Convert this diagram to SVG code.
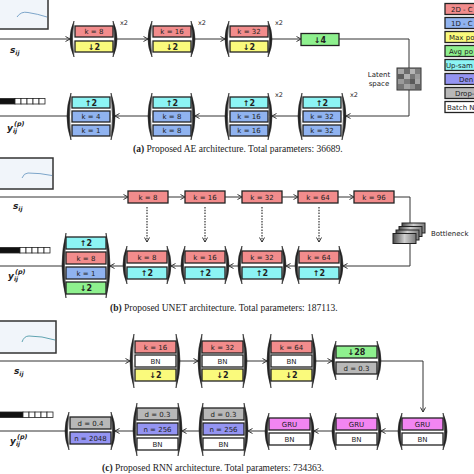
<svg xmlns="http://www.w3.org/2000/svg" width="474" height="474" viewBox="0 0 474 474">
<style>
.b{stroke:#222;stroke-width:1.3}
.c2{fill:#f28c8c}.c1{fill:#90b3f0}.mp{fill:#fafa7c}.ap{fill:#8ef08e}.up{fill:#8cf4f4}
.de{fill:#9494f2}.dr{fill:#b8b8b8}.bn{fill:#ffffff}.gru{fill:#f285f2}
.t{font-family:"DejaVu Sans",sans-serif;font-size:7px;fill:#222;text-anchor:middle}
.ar{font-weight:bold;font-size:8px}
.x2{font-family:"DejaVu Sans",sans-serif;font-size:6.5px;fill:#222}
.lg{font-family:"DejaVu Sans",sans-serif;font-size:7px;fill:#222}
.br{fill:#222;stroke:#222;stroke-width:0.6}
.ln{stroke:#333;stroke-width:1;fill:none}
.dot{stroke:#333;stroke-width:1.2;fill:none;stroke-dasharray:1.5 1.3}
.lab{font-family:"DejaVu Sans",sans-serif;font-size:9px;font-weight:bold;font-style:italic;fill:#222}
.cap{font-family:"Liberation Serif","Times New Roman",serif;font-size:9.5px;fill:#222}
.img{fill:#f1f5fa;stroke:#333;stroke-width:1.5}
.crv{fill:none;stroke:#6f9cc4;stroke-width:0.9}
.cell{stroke:#222;stroke-width:0.8}
</style>
<defs>
<marker id="ah" markerWidth="6" markerHeight="6" refX="5" refY="3" orient="auto" markerUnits="userSpaceOnUse">
<path d="M0.5,0.5 L5,3 L0.5,5.5" fill="none" stroke="#333" stroke-width="1"/>
</marker>
<linearGradient id="bg" x1="0" x2="1" y1="0" y2="0">
<stop offset="0" stop-color="#4a4a4a"/><stop offset="0.5" stop-color="#cfcfcf"/><stop offset="1" stop-color="#7a7a7a"/>
</linearGradient>
</defs>

<!-- ===== Panel (a) ===== -->
<g id="a-input">
<rect class="img" x="-2" y="-12" width="50" height="41"/>
<path class="crv" d="M17,17 Q21,11 28,12.5 Q38,14 47,17"/>
<text class="lab" x="10" y="53">s<tspan font-size="6" dy="2">ij</tspan></text>
</g>
<g id="a-e1">
<path class="br" d="M74,21 Q66,39 74,57 Q71,39 74,21Z"/><path class="br" d="M113,21 Q121,39 113,57 Q116,39 113,21Z"/>
<rect class="b c2" x="75" y="26" width="38" height="11"/><text class="t" x="94" y="34">k = 8</text>
<rect class="b mp" x="75" y="41" width="38" height="11"/><text class="t ar" x="94" y="49.8">↓2</text>
<text class="x2" x="120" y="25">x2</text>
</g>
<g id="a-e2">
<path class="br" d="M152,21 Q144,39 152,57 Q149,39 152,21Z"/><path class="br" d="M191,21 Q199,39 191,57 Q194,39 191,21Z"/>
<rect class="b c2" x="153" y="26" width="38" height="11"/><text class="t" x="172" y="34">k = 16</text>
<rect class="b mp" x="153" y="41" width="38" height="11"/><text class="t ar" x="172" y="49.8">↓2</text>
<text class="x2" x="198" y="25">x2</text>
</g>
<g id="a-e3">
<path class="br" d="M229,21 Q221,39 229,57 Q226,39 229,21Z"/><path class="br" d="M268,21 Q276,39 268,57 Q271,39 268,21Z"/>
<rect class="b c2" x="230" y="26" width="38" height="11"/><text class="t" x="249" y="34">k = 32</text>
<rect class="b mp" x="230" y="41" width="38" height="11"/><text class="t ar" x="249" y="49.8">↓2</text>
<text class="x2" x="275" y="25">x2</text>
</g>
<g id="a-pool">
<rect class="b ap" x="301" y="33.5" width="38" height="12"/><text class="t ar" x="320" y="42.8">↓4</text>
</g>
<g id="a-latent">
<rect x="397" y="68" width="24" height="22" fill="#8a8a8a" stroke="#333" stroke-width="1"/>
<rect x="398" y="69" width="6" height="5" fill="#a8a8a8"/><rect x="404" y="69" width="6" height="5" fill="#6e6e6e"/><rect x="410" y="69" width="5" height="5" fill="#b4b4b4"/><rect x="415" y="69" width="5" height="5" fill="#7d7d7d"/>
<rect x="398" y="74" width="6" height="5" fill="#5e5e5e"/><rect x="404" y="74" width="6" height="5" fill="#b0b0b0"/><rect x="410" y="74" width="5" height="5" fill="#767676"/><rect x="415" y="74" width="5" height="5" fill="#9c9c9c"/>
<rect x="398" y="79" width="6" height="5" fill="#9a9a9a"/><rect x="404" y="79" width="6" height="5" fill="#7a7a7a"/><rect x="410" y="79" width="5" height="5" fill="#5a5a5a"/><rect x="415" y="79" width="5" height="5" fill="#a6a6a6"/>
<rect x="398" y="84" width="6" height="5" fill="#767676"/><rect x="404" y="84" width="6" height="5" fill="#a2a2a2"/><rect x="410" y="84" width="5" height="5" fill="#8e8e8e"/><rect x="415" y="84" width="5" height="5" fill="#666"/>
<text class="lg" x="379" y="77" text-anchor="middle">Latent</text>
<text class="lg" x="379" y="86" text-anchor="middle">space</text>
</g>
<g id="a-d1">
<path class="br" d="M302,93 Q294,116.5 302,140 Q299,116.5 302,93Z"/><path class="br" d="M342,93 Q350,116.5 342,140 Q345,116.5 342,93Z"/>
<rect class="b up" x="303" y="97" width="38" height="11"/><text class="t ar" x="322" y="105.8">↑2</text>
<rect class="b c1" x="303" y="111" width="38" height="11"/><text class="t" x="322" y="119">k = 32</text>
<rect class="b c1" x="303" y="125" width="38" height="11"/><text class="t" x="322" y="133">k = 32</text>
<text class="x2" x="350" y="97">x2</text>
</g>
<g id="a-d2">
<path class="br" d="M229,93 Q221,116.5 229,140 Q226,116.5 229,93Z"/><path class="br" d="M268,93 Q276,116.5 268,140 Q271,116.5 268,93Z"/>
<rect class="b up" x="230" y="97" width="38" height="11"/><text class="t ar" x="249" y="105.8">↑2</text>
<rect class="b c1" x="230" y="111" width="38" height="11"/><text class="t" x="249" y="119">k = 16</text>
<rect class="b c1" x="230" y="125" width="38" height="11"/><text class="t" x="249" y="133">k = 16</text>
<text class="x2" x="275" y="97">x2</text>
</g>
<g id="a-d3">
<path class="br" d="M152,93 Q144,116.5 152,140 Q149,116.5 152,93Z"/><path class="br" d="M191,93 Q199,116.5 191,140 Q194,116.5 191,93Z"/>
<rect class="b up" x="153" y="97" width="38" height="11"/><text class="t ar" x="172" y="105.8">↑2</text>
<rect class="b c1" x="153" y="111" width="38" height="11"/><text class="t" x="172" y="119">k = 8</text>
<rect class="b c1" x="153" y="125" width="38" height="11"/><text class="t" x="172" y="133">k = 8</text>
</g>
<g id="a-d4">
<path class="br" d="M71,93 Q63,116.5 71,140 Q68,116.5 71,93Z"/><path class="br" d="M111,93 Q119,116.5 111,140 Q114,116.5 111,93Z"/>
<rect class="b up" x="72" y="97" width="38" height="11"/><text class="t ar" x="91" y="105.8">↑2</text>
<rect class="b c1" x="72" y="111" width="38" height="11"/><text class="t" x="91" y="119">k = 4</text>
<rect class="b c1" x="72" y="125" width="38" height="11"/><text class="t" x="91" y="133">k = 1</text>
</g>
<g id="a-output">
<rect class="cell" x="-1" y="98.5" width="16" height="5.5" fill="#111"/>
<rect class="cell" x="15" y="98.5" width="6" height="5.5" fill="#fff"/><rect class="cell" x="21" y="98.5" width="6" height="5.5" fill="#fff"/><rect class="cell" x="27" y="98.5" width="6" height="5.5" fill="#fff"/><rect class="cell" x="33" y="98.5" width="6" height="5.5" fill="#fff"/><rect class="cell" x="39" y="98.5" width="6" height="5.5" fill="#fff"/>
<text class="lab" x="7" y="131">y<tspan font-size="6" dy="2">ij</tspan><tspan font-size="6.5" dx="-3" dy="-7">(p)</tspan></text>
</g>
<g id="a-connectors">
<path class="ln" d="M0,39 H70" marker-end="url(#ah)"/>
<path class="ln" d="M117,39 H148" marker-end="url(#ah)"/>
<path class="ln" d="M195,39 H225" marker-end="url(#ah)"/>
<path class="ln" d="M272,39 H301" marker-end="url(#ah)"/>
<path class="ln" d="M339,39 H409 V68"/>
<path class="ln" d="M409,90 V116 H346" marker-end="url(#ah)"/>
<path class="ln" d="M298,116 H272" marker-end="url(#ah)"/>
<path class="ln" d="M225,116 H195" marker-end="url(#ah)"/>
<path class="ln" d="M148,116 H115" marker-end="url(#ah)"/>
<path class="ln" d="M67,116 H0"/>
</g>
<text class="cap" x="133" y="152"><tspan font-weight="bold">(a)</tspan> Proposed AE architecture. Total parameters: 36689.</text>

<!-- Legend -->
<g id="legend">
<rect class="b c2" x="445" y="3.5" width="40" height="11"/><text class="lg" x="451" y="11.5">2D - C</text>
<rect class="b c1" x="445" y="17.5" width="40" height="11"/><text class="lg" x="451" y="25.5">1D - C</text>
<rect class="b mp" x="445" y="31.5" width="40" height="11"/><text class="lg" x="449" y="39.5">Max po</text>
<rect class="b ap" x="445" y="45.5" width="40" height="11"/><text class="lg" x="449" y="53.5">Avg po</text>
<rect class="b up" x="445" y="59.5" width="40" height="11"/><text class="lg" x="446" y="67.5">Up-sam</text>
<rect class="b de" x="445" y="73.5" width="40" height="11"/><text class="lg" x="459" y="81.5">Den</text>
<rect class="b dr" x="445" y="87.5" width="40" height="11"/><text class="lg" x="455" y="95.5">Drop-</text>
<rect class="b bn" x="445" y="101.5" width="40" height="11"/><text class="lg" x="447" y="109.5" font-size="6.7">Batch N</text>
</g>

<!-- ===== Panel (b) ===== -->
<g id="b-input">
<rect class="img" x="-2" y="158" width="55" height="31"/>
<path class="crv" d="M22,178 Q24,173 28,173 Q40,173 52,175.5"/>
<text class="lab" x="13" y="209">s<tspan font-size="6" dy="2">ij</tspan></text>
</g>
<g id="b-e1"><rect class="b c2" x="128" y="191" width="40" height="12"/><text class="t" x="148" y="199.5">k = 8</text></g>
<g id="b-e2"><rect class="b c2" x="185" y="191" width="40" height="12"/><text class="t" x="205" y="199.5">k = 16</text></g>
<g id="b-e3"><rect class="b c2" x="242" y="191" width="40" height="12"/><text class="t" x="262" y="199.5">k = 32</text></g>
<g id="b-e4"><rect class="b c2" x="298" y="191" width="40" height="12"/><text class="t" x="318" y="199.5">k = 64</text></g>
<g id="b-e5"><rect class="b c2" x="354" y="191" width="40" height="12"/><text class="t" x="374" y="199.5">k = 96</text></g>
<g id="b-bottleneck">
<rect x="402" y="223" width="23" height="10" fill="url(#bg)" stroke="#222" stroke-width="1"/>
<rect x="399" y="226.5" width="23" height="10" fill="url(#bg)" stroke="#222" stroke-width="1"/>
<rect x="396" y="230" width="23" height="10" fill="url(#bg)" stroke="#222" stroke-width="1"/>
<rect x="393" y="233.5" width="23" height="10" fill="url(#bg)" stroke="#222" stroke-width="1"/>
<text class="lg" x="431" y="235.5">Bottleneck</text>
</g>
<g id="b-d1">
<path class="br" d="M299,246 Q291,265 299,284 Q296,265 299,246Z"/><path class="br" d="M339,246 Q347,265 339,284 Q342,265 339,246Z"/>
<rect class="b c2" x="299" y="251" width="40" height="12"/><text class="t" x="319" y="259.5">k = 64</text>
<rect class="b up" x="299" y="267" width="40" height="12"/><text class="t ar" x="319" y="276.3">↑2</text>
</g>
<g id="b-d2">
<path class="br" d="M242,246 Q234,265 242,284 Q239,265 242,246Z"/><path class="br" d="M282,246 Q290,265 282,284 Q285,265 282,246Z"/>
<rect class="b c2" x="242" y="251" width="40" height="12"/><text class="t" x="262" y="259.5">k = 32</text>
<rect class="b up" x="242" y="267" width="40" height="12"/><text class="t ar" x="262" y="276.3">↑2</text>
</g>
<g id="b-d3">
<path class="br" d="M185,246 Q177,265 185,284 Q182,265 185,246Z"/><path class="br" d="M225,246 Q233,265 225,284 Q228,265 225,246Z"/>
<rect class="b c2" x="185" y="251" width="40" height="12"/><text class="t" x="205" y="259.5">k = 16</text>
<rect class="b up" x="185" y="267" width="40" height="12"/><text class="t ar" x="205" y="276.3">↑2</text>
</g>
<g id="b-d4">
<path class="br" d="M127,246 Q119,265 127,284 Q124,265 127,246Z"/><path class="br" d="M167,246 Q175,265 167,284 Q170,265 167,246Z"/>
<rect class="b c2" x="127" y="251" width="40" height="12"/><text class="t" x="147" y="259.5">k = 8</text>
<rect class="b up" x="127" y="267" width="40" height="12"/><text class="t ar" x="147" y="276.3">↑2</text>
</g>
<g id="b-d5">
<path class="br" d="M66,233 Q58,265.5 66,298 Q63,265.5 66,233Z"/><path class="br" d="M106,233 Q114,265.5 106,298 Q109,265.5 106,233Z"/>
<rect class="b up" x="66" y="237" width="40" height="12"/><text class="t ar" x="86" y="246.3">↑2</text>
<rect class="b c2" x="66" y="252" width="40" height="12"/><text class="t" x="86" y="260.5">k = 8</text>
<rect class="b c1" x="66" y="267" width="40" height="12"/><text class="t" x="86" y="275.5">k = 1</text>
<rect class="b ap" x="66" y="282" width="40" height="12"/><text class="t ar" x="86" y="291.3">↓2</text>
</g>
<g id="b-output">
<rect class="cell" x="-1" y="247.5" width="21" height="5.5" fill="#111"/>
<rect class="cell" x="20" y="247.5" width="6" height="5.5" fill="#fff"/><rect class="cell" x="26" y="247.5" width="6" height="5.5" fill="#fff"/><rect class="cell" x="32" y="247.5" width="6" height="5.5" fill="#fff"/><rect class="cell" x="38" y="247.5" width="6" height="5.5" fill="#fff"/><rect class="cell" x="44" y="247.5" width="6" height="5.5" fill="#fff"/>
<text class="lab" x="8" y="279">y<tspan font-size="6" dy="2">ij</tspan><tspan font-size="6.5" dx="-3" dy="-7">(p)</tspan></text>
</g>
<g id="b-connectors">
<path class="ln" d="M0,197 H128" marker-end="url(#ah)"/>
<path class="ln" d="M168,197 H185" marker-end="url(#ah)"/>
<path class="ln" d="M225,197 H242" marker-end="url(#ah)"/>
<path class="ln" d="M282,197 H298" marker-end="url(#ah)"/>
<path class="ln" d="M338,197 H354" marker-end="url(#ah)"/>
<path class="ln" d="M394,197 H410 V223"/>
<path class="ln" d="M410,243.5 V266 H343" marker-end="url(#ah)"/>
<path class="ln" d="M295,266 H286" marker-end="url(#ah)"/>
<path class="ln" d="M238,266 H229" marker-end="url(#ah)"/>
<path class="ln" d="M181,266 H171" marker-end="url(#ah)"/>
<path class="ln" d="M123,266 H110" marker-end="url(#ah)"/>
<path class="ln" d="M62,266 H0"/>
<path class="dot" d="M147,207 V242" marker-end="url(#ah)"/>
<path class="dot" d="M205,207 V242" marker-end="url(#ah)"/>
<path class="dot" d="M262,207 V242" marker-end="url(#ah)"/>
<path class="dot" d="M319,207 V242" marker-end="url(#ah)"/>
</g>
<text class="cap" x="110" y="311"><tspan font-weight="bold">(b)</tspan> Proposed UNET architecture. Total parameters: 187113.</text>

<!-- ===== Panel (c) ===== -->
<g id="c-input">
<rect class="img" x="-2" y="321" width="58" height="32"/>
<path class="crv" d="M22,342 Q24,336 29,336 Q42,336 55,340" style="stroke:#4f9aa8"/>
<text class="lab" x="14" y="374">s<tspan font-size="6" dy="2">ij</tspan></text>
</g>
<g id="c-e1">
<path class="br" d="M134,334 Q126,361 134,388 Q131,361 134,334Z"/><path class="br" d="M176,334 Q184,361 176,388 Q179,361 176,334Z"/>
<rect class="b c2" x="135" y="341" width="41" height="12"/><text class="t" x="155.5" y="349.5">k = 16</text>
<rect class="b bn" x="135" y="355" width="41" height="12"/><text class="t" x="155.5" y="363.5">BN</text>
<rect class="b mp" x="135" y="369" width="41" height="12"/><text class="t ar" x="155.5" y="378.3">↓2</text>
</g>
<g id="c-e2">
<path class="br" d="M202,334 Q194,361 202,388 Q199,361 202,334Z"/><path class="br" d="M243,334 Q251,361 243,388 Q246,361 243,334Z"/>
<rect class="b c2" x="202" y="341" width="41" height="12"/><text class="t" x="222.5" y="349.5">k = 32</text>
<rect class="b bn" x="202" y="355" width="41" height="12"/><text class="t" x="222.5" y="363.5">BN</text>
<rect class="b mp" x="202" y="369" width="41" height="12"/><text class="t ar" x="222.5" y="378.3">↓2</text>
</g>
<g id="c-e3">
<path class="br" d="M271,334 Q263,361 271,388 Q268,361 271,334Z"/><path class="br" d="M312,334 Q320,361 312,388 Q315,361 312,334Z"/>
<rect class="b c2" x="271" y="341" width="41" height="12"/><text class="t" x="291.5" y="349.5">k = 64</text>
<rect class="b bn" x="271" y="355" width="41" height="12"/><text class="t" x="291.5" y="363.5">BN</text>
<rect class="b mp" x="271" y="369" width="41" height="12"/><text class="t ar" x="291.5" y="378.3">↓2</text>
</g>
<g id="c-e4">
<path class="br" d="M336,341 Q328,360.5 336,380 Q333,360.5 336,341Z"/><path class="br" d="M377,341 Q385,360.5 377,380 Q380,360.5 377,341Z"/>
<rect class="b ap" x="336" y="346" width="41" height="12"/><text class="t ar" x="356.5" y="355.3">↓28</text>
<rect class="b dr" x="336" y="362" width="41" height="12"/><text class="t" x="356.5" y="370.5">d = 0.3</text>
</g>
<g id="c-d1">
<path class="br" d="M402,413 Q394,431.5 402,450 Q399,431.5 402,413Z"/><path class="br" d="M443,413 Q451,431.5 443,450 Q446,431.5 443,413Z"/>
<rect class="b gru" x="402" y="418" width="41" height="12"/><text class="t" x="422.5" y="426.5">GRU</text>
<rect class="b bn" x="402" y="433" width="41" height="12"/><text class="t" x="422.5" y="441.5">BN</text>
</g>
<g id="c-d2">
<path class="br" d="M336,413 Q328,431.5 336,450 Q333,431.5 336,413Z"/><path class="br" d="M377,413 Q385,431.5 377,450 Q380,431.5 377,413Z"/>
<rect class="b gru" x="336" y="418" width="41" height="12"/><text class="t" x="356.5" y="426.5">GRU</text>
<rect class="b bn" x="336" y="433" width="41" height="12"/><text class="t" x="356.5" y="441.5">BN</text>
</g>
<g id="c-d3">
<path class="br" d="M269,413 Q261,431.5 269,450 Q266,431.5 269,413Z"/><path class="br" d="M310,413 Q318,431.5 310,450 Q313,431.5 310,413Z"/>
<rect class="b gru" x="269" y="418" width="41" height="12"/><text class="t" x="289.5" y="426.5">GRU</text>
<rect class="b bn" x="269" y="433" width="41" height="12"/><text class="t" x="289.5" y="441.5">BN</text>
</g>
<g id="c-d4">
<path class="br" d="M203,403 Q195,429.5 203,456 Q200,429.5 203,403Z"/><path class="br" d="M244,403 Q252,429.5 244,456 Q247,429.5 244,403Z"/>
<rect class="b dr" x="203" y="408" width="41" height="12"/><text class="t" x="223.5" y="416.5">d = 0.3</text>
<rect class="b de" x="203" y="423" width="41" height="12"/><text class="t" x="223.5" y="431.5">n = 256</text>
<rect class="b bn" x="203" y="438" width="41" height="12"/><text class="t" x="223.5" y="446.5">BN</text>
</g>
<g id="c-d5">
<path class="br" d="M137,403 Q129,429.5 137,456 Q134,429.5 137,403Z"/><path class="br" d="M178,403 Q186,429.5 178,456 Q181,429.5 178,403Z"/>
<rect class="b dr" x="137" y="408" width="41" height="12"/><text class="t" x="157.5" y="416.5">d = 0.3</text>
<rect class="b de" x="137" y="423" width="41" height="12"/><text class="t" x="157.5" y="431.5">n = 256</text>
<rect class="b bn" x="137" y="438" width="41" height="12"/><text class="t" x="157.5" y="446.5">BN</text>
</g>
<g id="c-d6">
<path class="br" d="M69,412 Q61,431 69,450 Q66,431 69,412Z"/><path class="br" d="M111,412 Q119,431 111,450 Q114,431 111,412Z"/>
<rect class="b dr" x="70" y="417" width="41" height="12"/><text class="t" x="90.5" y="425.5">d = 0.4</text>
<rect class="b de" x="70" y="432" width="41" height="12"/><text class="t" x="90.5" y="440.5">n = 2048</text>
</g>
<g id="c-output">
<rect class="cell" x="-1" y="412" width="24" height="5.5" fill="#111"/>
<rect class="cell" x="23" y="412" width="6" height="5.5" fill="#fff"/><rect class="cell" x="29" y="412" width="6" height="5.5" fill="#fff"/><rect class="cell" x="35" y="412" width="6" height="5.5" fill="#fff"/><rect class="cell" x="41" y="412" width="6" height="5.5" fill="#fff"/><rect class="cell" x="47" y="412" width="6" height="5.5" fill="#fff"/>
<text class="lab" x="10" y="444">y<tspan font-size="6" dy="2">ij</tspan><tspan font-size="6.5" dx="-3" dy="-7">(p)</tspan></text>
</g>
<g id="c-connectors">
<path class="ln" d="M0,361 H130" marker-end="url(#ah)"/>
<path class="ln" d="M180,361 H198" marker-end="url(#ah)"/>
<path class="ln" d="M247,361 H267" marker-end="url(#ah)"/>
<path class="ln" d="M316,361 H332" marker-end="url(#ah)"/>
<path class="ln" d="M381,361 H423 V412" marker-end="url(#ah)"/>
<path class="ln" d="M398,431 H381" marker-end="url(#ah)"/>
<path class="ln" d="M332,431 H314" marker-end="url(#ah)"/>
<path class="ln" d="M265,431 H248" marker-end="url(#ah)"/>
<path class="ln" d="M199,431 H182" marker-end="url(#ah)"/>
<path class="ln" d="M133,431 H115" marker-end="url(#ah)"/>
<path class="ln" d="M65,431 H0"/>
</g>
<text class="cap" x="102" y="471"><tspan font-weight="bold">(c)</tspan> Proposed RNN architecture. Total parameters: 734363.</text>
</svg>
